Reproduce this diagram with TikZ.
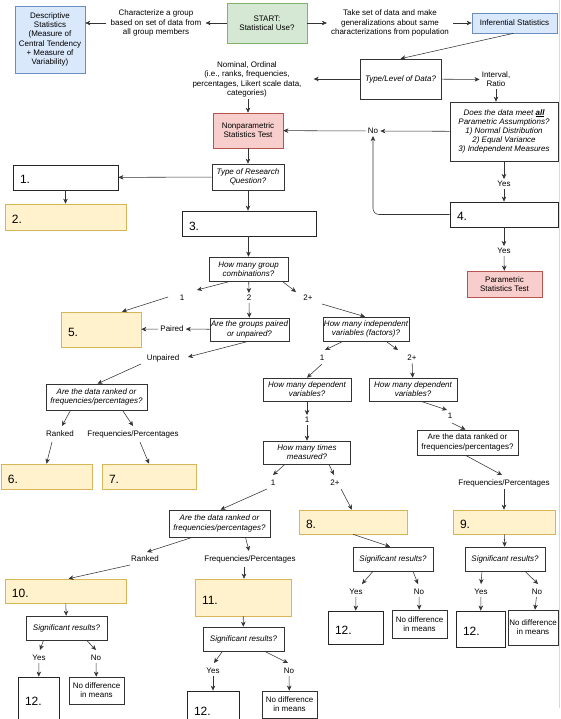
\documentclass[tikz,border=0pt]{standalone}
\usepackage{fontspec}
\setmainfont{Liberation Sans}
\usepackage{xcolor}
\usetikzlibrary{arrows.meta,calc}
\definecolor{bluefill}{HTML}{DAE8FC}
\definecolor{blueline}{HTML}{6C8EBF}
\definecolor{greenfill}{HTML}{D5E8D4}
\definecolor{greenline}{HTML}{82B366}
\definecolor{redfill}{HTML}{F8CECC}
\definecolor{redline}{HTML}{B85450}
\definecolor{yelfill}{HTML}{FFF2CC}
\definecolor{yelline}{HTML}{D6B656}
\newcommand{\smalltxt}{\fontsize{8}{9.2}\selectfont}
\newcommand{\numtxt}{\fontsize{12}{14}\selectfont}

\begin{document}
\begin{tikzpicture}[
  x=1pt,y=-1pt,
  box/.style={draw=black!80, line width=0.6pt, align=center, inner sep=1pt, font=\smalltxt},
  ask/.style={box, font=\smalltxt\itshape},
  bluebox/.style={box, draw=blueline, fill=bluefill},
  greenbox/.style={box, draw=greenline, fill=greenfill},
  redbox/.style={box, draw=redline, fill=redfill},
  numbox/.style={draw=black!85, line width=0.8pt, align=left, inner xsep=7pt, inner ysep=0pt, text height=13pt, text depth=0pt, font=\numtxt},
  yelbox/.style={numbox, draw=yelline, fill=yelfill, line width=0.6pt},
  lbl/.style={align=center, inner sep=2pt, font=\smalltxt},
  arrow/.style={-{Stealth[length=5pt,width=4.5pt,inset=1.5pt]}, line width=0.55pt, draw=black!80}
]
\useasboundingbox (0,0) rectangle (561,719);
\fill[white] (0,0) rectangle (561,719);
\clip (0,0) rectangle (561,719);
\draw[black!15, line width=1.5pt] (559.5,0) -- (559.5,708);

\node[bluebox, minimum width=70pt, minimum height=67pt] (desc) at (50,39.5) {Descriptive\\Statistics\\(Measure of\\Central Tendency\\+ Measure of\\Variability)};
\node[lbl, inner xsep=4pt] (group) at (156,23) {Characterize a group\\based on set of data from\\all group members};
\node[greenbox, minimum width=80pt, minimum height=40pt] (start) at (267,23) {START:\\Statistical Use?};
\node[lbl, inner xsep=4pt] (general) at (390,23) {Take set of data and make\\generalizations about same\\characterizations from population};
\node[bluebox, minimum width=85pt, minimum height=20pt] (infer) at (514.5,23) {Inferential Statistics};
\node[ask, minimum width=81pt, minimum height=40pt] (level) at (400.5,79) {Type/Level of Data?};
\node[lbl] (nominal) at (247,79.5) {Nominal, Ordinal\\(i.e., ranks, frequencies,\\percentages, Likert scale data,\\categories)};
\node[lbl] (ratio) at (496,79.5) {Interval,\\Ratio};
\node[ask, minimum width=108pt, minimum height=59pt] (assume) at (504,131.5) {Does the data meet \textbf{\underline{all}}\\Parametric Assumptions?\\1) Normal Distribution\\2) Equal Variance\\3) Independent Measures};
\node[lbl] (no) at (373,131) {No};
\node[redbox, minimum width=70pt, minimum height=35pt] (nonpar) at (248,130.5) {Nonparametric\\Statistics Test};
\node[lbl] (yesA) at (504,184) {Yes};
\node[numbox, text width=94pt, minimum height=25pt] (n4) at (504,214.5) {4.};
\node[lbl] (yesB) at (504,251) {Yes};
\node[redbox, minimum width=75pt, minimum height=26pt] (par) at (504.5,284) {Parametric\\Statistics Test};

\node[ask, minimum width=72pt, minimum height=26pt] (research) at (248,177) {Type of Research\\Question?};
\node[numbox, text width=91pt, minimum height=25pt] (n1) at (65.5,177.5) {1.};
\node[yelbox, text width=107pt, minimum height=26pt] (n2) at (65.5,217) {2.};
\node[numbox, text width=120pt, minimum height=25pt] (n3) at (249,223.5) {3.};
\node[ask, minimum width=79pt, minimum height=24pt] (combos) at (248.5,269) {How many group\\combinations?};
\node[lbl] (c1) at (182,298) {1};
\node[lbl] (c2) at (249,298) {2};
\node[lbl] (c3) at (308,298) {2+};
\node[yelbox, text width=66pt, minimum height=35pt] (n5) at (101,329.5) {5.};
\node[ask, minimum width=79pt, minimum height=23pt] (paired) at (249.5,329.5) {Are the groups paired\\or unpaired?};
\node[lbl] (pair) at (172,329) {Paired};
\node[lbl] (unpair) at (163,358) {Unpaired};
\node[ask, minimum width=101pt, minimum height=26pt] (rankA) at (96.5,397) {Are the data ranked or\\frequencies/percentages?};
\node[lbl] (rankedA) at (60,434) {Ranked};
\node[lbl] (freqA) at (133,434) {Frequencies/Percentages};
\node[yelbox, text width=77pt, minimum height=25pt] (n6) at (46.5,476.5) {6.};
\node[yelbox, text width=80pt, minimum height=25pt] (n7) at (149,476.5) {7.};

\node[ask, minimum width=86pt, minimum height=24pt] (indep) at (366,329) {How many independent\\variables (factors)?};
\node[lbl] (i1) at (322,358) {1};
\node[lbl] (i2) at (412,358) {2+};
\node[ask, minimum width=88pt, minimum height=23pt] (depA) at (307,389.5) {How many dependent\\variables?};
\node[ask, minimum width=88pt, minimum height=23pt] (depB) at (413,389.5) {How many dependent\\variables?};
\node[lbl] (d1) at (307,420) {1};
\node[ask, minimum width=87pt, minimum height=23pt] (times) at (307,452.5) {How many times\\measured?};
\node[lbl] (e1) at (450,416) {1};
\node[box, minimum width=101pt, minimum height=25pt] (rankB) at (467.5,442.5) {Are the data ranked or\\frequencies/percentages?};
\node[lbl] (freqB) at (504,483) {Frequencies/Percentages};
\node[yelbox, text width=88pt, minimum height=24pt] (n9) at (504,522) {9.};
\node[ask, minimum width=80pt, minimum height=24pt] (sigR) at (505,559) {Significant results?};
\node[lbl] (yesR) at (481,592) {Yes};
\node[lbl] (noR) at (537,592) {No};
\node[numbox, text width=35pt, minimum height=36pt] (twR) at (480.5,629) {12.};
\node[box, minimum width=50pt, minimum height=35pt] (ndR) at (533,627.5) {No difference\\in means};

\node[lbl] (t1) at (273,483) {1};
\node[lbl] (t2) at (335,483) {2+};
\node[ask, minimum width=101pt, minimum height=27pt] (rankC) at (219.5,523.5) {Are the data ranked or\\frequencies/percentages?};
\node[yelbox, text width=94pt, minimum height=24pt] (n8) at (353,522) {8.};
\node[ask, minimum width=80pt, minimum height=24pt] (sigM) at (393,559) {Significant results?};
\node[lbl] (yesM) at (356,592) {Yes};
\node[lbl] (noM) at (419,592) {No};
\node[numbox, text width=41pt, minimum height=33pt] (twM) at (355.5,627.5) {12.};
\node[box, minimum width=55pt, minimum height=28pt] (ndM) at (419.5,624) {No difference\\in means};
\node[lbl] (rankedC) at (145,559) {Ranked};
\node[lbl] (freqC) at (250,559) {Frequencies/Percentages};
\node[yelbox, text width=107pt, minimum height=24pt] (n10) at (65.5,591) {10.};
\node[yelbox, text width=82pt, minimum height=37pt] (n11) at (243,597.5) {11.};
\node[ask, minimum width=81pt, minimum height=24pt] (sigL) at (66.5,628) {Significant results?};
\node[lbl] (yesL) at (39,658) {Yes};
\node[lbl] (noL) at (96,658) {No};
\node[numbox, text width=27pt, minimum height=44pt] (twL) at (38.5,699) {12.};
\node[box, minimum width=55pt, minimum height=27pt] (ndL) at (96.5,690.5) {No difference\\in means};
\node[ask, minimum width=81pt, minimum height=24pt] (sigML) at (243.5,639) {Significant results?};
\node[lbl] (yesML) at (213,671) {Yes};
\node[lbl] (noML) at (289,671) {No};
\node[numbox, text width=38pt, minimum height=36pt] (twML) at (213,709) {12.};
\node[box, minimum width=55pt, minimum height=27pt] (ndML) at (289.5,704.5) {No difference\\in means};

\draw[arrow] (start) -- (group);
\draw[arrow] (group.west) -- (group.west -| desc.east);
\draw[arrow] (start) -- (general);
\draw[arrow] (general) -- (infer);
\draw[arrow] ($(infer.south)+(-1,0)$) -- (level.north);
\draw[arrow] (level.west) -- ($(nominal.east |- level.west)+(10,0)$);
\draw[arrow] (level) -- (ratio);
\draw[arrow] (ratio.south) -- (ratio.south |- assume.north);
\draw[arrow] (nonpar.north |- nominal.south) -- (nonpar.north);
\draw[arrow] (assume) -- (no);
\draw[arrow] (no) -- (nonpar);
\draw[arrow] (assume) -- (yesA);
\draw[arrow] (yesA) -- (n4);
\draw[arrow, rounded corners=6pt] (n4.west) -| (no.south);
\draw[arrow] (n4) -- (yesB);
\draw[arrow] (yesB) -- (par);
\draw[arrow] (nonpar) -- (research);
\draw[arrow] (research) -- (n1);
\draw[arrow] (n1) -- (n2);
\draw[arrow] (research.south) -- (research.south |- n3.north);
\draw[arrow] (n3.south -| combos.north) -- (combos.north);
\draw[arrow] ($(combos.south)+(-18,0)$) -- ($(c1)+(15,-8)$);
\draw[arrow] ($(c1)+(-14,-1)$) -- ($(n5.north)+(21,0)$);
\draw[arrow] (combos) -- (c2);
\draw[arrow] (c2) -- (paired);
\draw[arrow] ($(combos.south east)+(-6,0)$) -- ($(c3)+(-12,-6)$);
\draw[arrow] ($(c3)+(14,6)$) -- ($(indep.north)+(-1,0)$);
\draw[arrow] (paired) -- (pair);
\draw[arrow] (pair) -- (n5);
\draw[arrow] ($(paired.south)+(-1,0)$) -- ($(unpair)+(25,-1)$);
\draw[arrow] ($(unpair)+(-22,6)$) -- ($(rankA.north)+(1,0)$);
\draw[arrow] ($(rankA.south)+(-26,0)$) -- ($(rankedA)+(2,-8)$);
\draw[arrow] ($(rankA.south)+(26,0)$) -- ($(freqA)+(0,-8)$);
\draw[arrow] ($(rankedA)+(-8,8)$) -- (n6.north);
\draw[arrow] ($(freqA)+(7,8)$) -- (n7.north);
\draw[arrow] ($(indep.south)+(-23,0)$) -- ($(i1)+(3,-8)$);
\draw[arrow] ($(indep.south)+(20,0)$) -- ($(i2)+(-14,-8)$);
\draw[arrow] ($(i1)+(0,6)$) -- (depA.north);
\draw[arrow] (i2) -- (depB);
\draw[arrow] (depA) -- (d1);
\draw[arrow] (d1) -- (times);
\draw[arrow] ($(depB.south)+(8,0)$) -- ($(e1)+(-3,-6)$);
\draw[arrow] ($(e1)+(2,7)$) -- ($(rankB.north)+(-2,0)$);
\draw[arrow] ($(rankB.south)+(-2,0)$) -- ($(freqB)+(-2,-8)$);
\draw[arrow] (freqB) -- (n9);
\draw[arrow] (n9) -- (sigR);
\draw[arrow] ($(sigR.south)+(-23,0)$) -- ($(yesR)+(0,-8)$);
\draw[arrow] ($(sigR.south)+(20,0)$) -- ($(noR)+(1,-8)$);
\draw[arrow] (yesR) -- (twR);
\draw[arrow] (noR) -- (ndR);
\draw[arrow] ($(times.south)+(-22,0)$) -- ($(t1)+(0,-8)$);
\draw[arrow] ($(times.south)+(22,0)$) -- ($(t2)+(-1,-8)$);
\draw[arrow] ($(t1)+(-6,6)$) -- ($(rankC.north)+(1,0)$);
\draw[arrow] ($(t2)+(6,6)$) -- ($(n8.north)+(-1,0)$);
\draw[arrow] (n8.south) -- ($(sigM.north)+(-3,0)$);
\draw[arrow] ($(sigM.south)+(-20,0)$) -- ($(yesM)+(6,-8)$);
\draw[arrow] ($(sigM.south)+(20,0)$) -- ($(noM)+(-1,-8)$);
\draw[arrow] (yesM) -- (twM);
\draw[arrow] (noM) -- (ndM);
\draw[arrow] ($(rankC.south)+(-27,0)$) -- ($(rankedC)+(2,-7)$);
\draw[arrow] ($(rankC.south)+(26,0)$) -- ($(freqC)+(-1,-8)$);
\draw[arrow] ($(rankedC)+(-15,6)$) -- ($(n10.north)+(3,0)$);
\draw[arrow] ($(freqC)+(-6,8)$) -- ($(n11.north)+(1,0)$);
\draw[arrow] (n10) -- (sigL);
\draw[arrow] ($(sigL.south)+(-23,0)$) -- ($(yesL)+(1,-8)$);
\draw[arrow] ($(sigL.south)+(20,0)$) -- ($(noL)+(0,-8)$);
\draw[arrow] (yesL) -- (twL);
\draw[arrow] (noL) -- (ndL);
\draw[arrow] (n11) -- (sigML);
\draw[arrow] ($(sigML.south)+(-21,0)$) -- ($(yesML)+(1,-8)$);
\draw[arrow] ($(sigML.south)+(21,0)$) -- ($(noML)+(-1,-8)$);
\draw[arrow] (yesML) -- (twML);
\draw[arrow] (noML) -- (ndML);
\end{tikzpicture}
\end{document}
